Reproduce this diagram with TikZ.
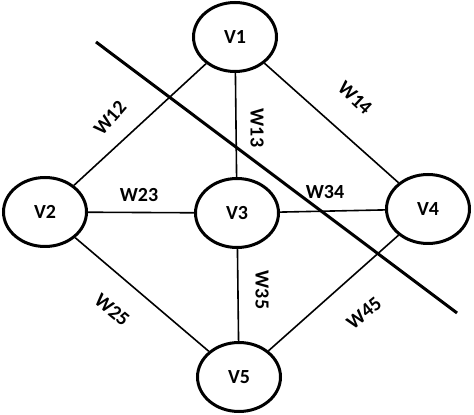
\documentclass[tikz,border=0pt]{standalone}
\usepackage{fontspec}
\setmainfont{Carlito}
\usetikzlibrary{shapes}

\begin{document}
\begin{tikzpicture}[x=1pt,y=1pt,semithick,font=\fontsize{20}{24}\selectfont\bfseries]
                \useasboundingbox (0,0) rectangle (474,415);
                \tikzset{vert/.style={shape=ellipse,draw=black,line width=3pt,minimum width=83pt,minimum height=69pt,inner sep=0pt}}
                \node[vert](V1)at(235, 378){V1};
                \node[vert](V2)at(45, 203){V2};
                \node[vert](V3)at(237, 202){V3};
                \node[vert](V4)at(428, 206){V4};
                \node[vert](V5)at(239, 38){V5};
                \coordinate(CutA)at(96, 373);
                \coordinate(CutB)at(457, 102);
                \path[line width=1.6pt](V1) edge (V2)
                (V1) edge (V3)
                (V1) edge (V4)
                (V2) edge (V3)
                (V3) edge (V4)
                (V3) edge (V5)
                (V2) edge (V5)
                (V4) edge (V5);
                \draw[line width=3pt](CutA) -- (CutB);
                \node[rotate=49](W12)at(110, 297){W12};
                \node[rotate=-90](W13)at(257, 287){W13};
                \node[rotate=-43](W14)at(355, 317){W14};
                \node[style={}](W23)at(139, 220){W23};
                \node[style={}](W34)at(325, 223){W34};
                \node[rotate=-90](W35)at(262, 125){W35};
                \node[rotate=-40](W25)at(112, 105){W25};
                \node[rotate=39](W45)at(364, 102){W45};
            \end{tikzpicture}
\end{document}
